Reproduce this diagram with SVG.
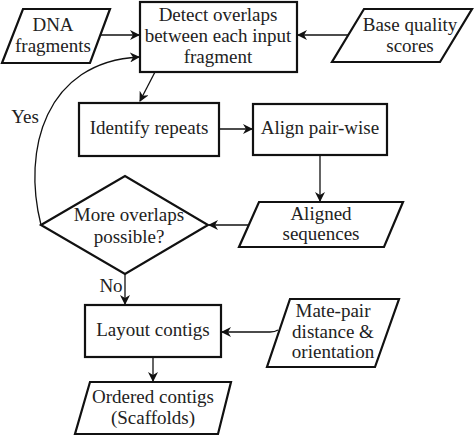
<svg xmlns="http://www.w3.org/2000/svg" width="474" height="436" viewBox="0 0 474 436">
<defs>
<marker id="ah" viewBox="0 0 10 10" refX="9" refY="5" markerWidth="10" markerHeight="10" markerUnits="userSpaceOnUse" orient="auto">
<path d="M0,0 L10,5 L0,10 L3,5 Z" fill="#111"/>
</marker>
</defs>
<style>
.n{fill:#fff;stroke:#111;stroke-width:2.2;stroke-linejoin:miter}
.c{fill:none;stroke:#111;stroke-width:1.3}
</style>
<rect width="474" height="436" fill="#fff"/>
<g id="connectors">
<line class="c" x1="101" y1="35" x2="139" y2="35" marker-end="url(#ah)"/>
<line class="c" x1="348" y1="35" x2="298" y2="35" marker-end="url(#ah)"/>
<line class="c" x1="155" y1="72" x2="140" y2="101" marker-end="url(#ah)"/>
<line class="c" x1="219" y1="129" x2="252" y2="129" marker-end="url(#ah)"/>
<line class="c" x1="320" y1="155" x2="320" y2="201" marker-end="url(#ah)"/>
<line class="c" x1="250" y1="225" x2="209" y2="225" marker-end="url(#ah)"/>
<path class="c" d="M41,225 C22,150 45,62 139,57" marker-end="url(#ah)"/>
<line class="c" x1="125" y1="274" x2="125" y2="304" marker-end="url(#ah)"/>
<path class="c" d="M278,330 Q275,332 270,332 L222,332" marker-end="url(#ah)"/>
<line class="c" x1="153" y1="357" x2="153" y2="381" marker-end="url(#ah)"/>
<text x="25" y="123" style="font-family:'Liberation Serif',serif;font-size:19px;fill:#222;text-anchor:middle">Yes</text>
<text x="111" y="292" style="font-family:'Liberation Serif',serif;font-size:19px;fill:#222;text-anchor:middle">No</text>
</g>
<g id="dna">
<polygon class="n" points="23,9 110,9 90,63 2,63"/>
<text x="53" y="31" style="font-family:'Liberation Serif',serif;font-size:19px;fill:#222;text-anchor:middle">DNA</text>
<text x="53" y="52" style="font-family:'Liberation Serif',serif;font-size:19px;fill:#222;text-anchor:middle">fragments</text>
</g>
<g id="detect">
<rect class="n" x="140" y="2" width="157" height="70"/>
<text x="218" y="21" style="font-family:'Liberation Serif',serif;font-size:19px;fill:#222;text-anchor:middle">Detect overlaps</text>
<text x="218" y="42" style="font-family:'Liberation Serif',serif;font-size:19px;fill:#222;text-anchor:middle">between each input</text>
<text x="218" y="63" style="font-family:'Liberation Serif',serif;font-size:19px;fill:#222;text-anchor:middle">fragment</text>
</g>
<g id="base">
<polygon class="n" points="364,9 472,9 440,62 332,62"/>
<text x="410" y="31" style="font-family:'Liberation Serif',serif;font-size:19px;fill:#222;text-anchor:middle">Base quality</text>
<text x="410" y="52" style="font-family:'Liberation Serif',serif;font-size:19px;fill:#222;text-anchor:middle">scores</text>
</g>
<g id="identify">
<rect class="n" x="79" y="103" width="140" height="53"/>
<text x="149" y="134" style="font-family:'Liberation Serif',serif;font-size:19px;fill:#222;text-anchor:middle">Identify repeats</text>
</g>
<g id="align">
<rect class="n" x="253" y="104" width="134" height="51"/>
<text x="320" y="134" style="font-family:'Liberation Serif',serif;font-size:19px;fill:#222;text-anchor:middle">Align pair-wise</text>
</g>
<g id="aligned">
<polygon class="n" points="259,202 403,202 384,247 239,247"/>
<text x="321" y="220" style="font-family:'Liberation Serif',serif;font-size:19px;fill:#222;text-anchor:middle">Aligned</text>
<text x="321" y="240" style="font-family:'Liberation Serif',serif;font-size:19px;fill:#222;text-anchor:middle">sequences</text>
</g>
<g id="decision">
<polygon class="n" points="41,225 125,176 208,225 125,274"/>
<text x="129" y="221" style="font-family:'Liberation Serif',serif;font-size:19px;fill:#222;text-anchor:middle">More overlaps</text>
<text x="129" y="243" style="font-family:'Liberation Serif',serif;font-size:19px;fill:#222;text-anchor:middle">possible?</text>
</g>
<g id="layout">
<rect class="n" x="85" y="305" width="136" height="52"/>
<text x="153" y="336" style="font-family:'Liberation Serif',serif;font-size:19px;fill:#222;text-anchor:middle">Layout contigs</text>
</g>
<g id="matepair">
<polygon class="n" points="290,299 399,299 375,367 267,367"/>
<text x="333" y="317" style="font-family:'Liberation Serif',serif;font-size:19px;fill:#222;text-anchor:middle">Mate-pair</text>
<text x="333" y="338" style="font-family:'Liberation Serif',serif;font-size:19px;fill:#222;text-anchor:middle">distance &#38;</text>
<text x="333" y="358" style="font-family:'Liberation Serif',serif;font-size:19px;fill:#222;text-anchor:middle">orientation</text>
</g>
<g id="ordered">
<polygon class="n" points="90,382 231,382 218,434 75,434"/>
<text x="153" y="403" style="font-family:'Liberation Serif',serif;font-size:19px;fill:#222;text-anchor:middle">Ordered contigs</text>
<text x="153" y="424" style="font-family:'Liberation Serif',serif;font-size:19px;fill:#222;text-anchor:middle">(Scaffolds)</text>
</g>
</svg>
